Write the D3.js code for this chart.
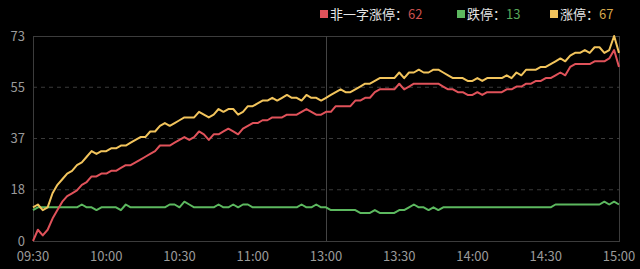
<!DOCTYPE html>
<html>
<head>
<meta charset="utf-8">
<script src="https://cdn.jsdelivr.net/npm/d3@7"></script>
<style>
  body { margin: 0; background: #000; }
  #chart text { font-family: "Noto Sans CJK SC", "Noto Sans", sans-serif; }
</style>
</head>
<body>
<div id="chart"></div>
<script>
// x axis labels (trading minutes, lunch break skipped)
let timeLabels = ["09:30", "10:00", "10:30", "11:00", "13:00", "13:30", "14:00", "14:30", "15:00"];
let yTickLabels = ["0", "18", "37", "55", "73"];
let yMax = 73;

// one value every 2 trading minutes, 09:30 -> 15:00
let limitUp = [
  12, 13, 11, 12, 17, 20, 22, 24, 25, 27, 28, 30, 32, 31, 32, 32, 33, 33, 34, 34,
  35, 36, 37, 37, 39, 39, 41, 42, 41, 42, 43, 44, 44, 44, 46, 45, 44, 45, 47, 46,
  47, 47, 45, 46, 48, 48, 49, 50, 50, 51, 50, 51, 52, 51, 51, 50, 52, 51, 51, 50,
  51, 52, 53, 54, 53, 53, 54, 55, 56, 56, 57, 58, 58, 58, 58, 60, 58, 60, 60, 61,
  60, 60, 61, 61, 60, 59, 58, 58, 58, 57, 57, 58, 57, 58, 58, 58, 58, 59, 58, 60,
  59, 61, 61, 61, 62, 62, 63, 64, 65, 64, 66, 67, 67, 68, 67, 69, 69, 67, 68, 73,
  67
];
let nonOneWord = [
  0, 4, 2, 4, 8, 11, 14, 16, 17, 18, 20, 21, 23, 23, 24, 24, 25, 25, 26, 27,
  27, 28, 29, 30, 31, 32, 34, 34, 34, 35, 36, 37, 36, 37, 39, 38, 36, 38, 38, 39,
  40, 39, 38, 40, 41, 42, 42, 43, 43, 44, 44, 44, 45, 45, 45, 46, 47, 46, 45, 45,
  46, 46, 48, 48, 48, 48, 50, 50, 51, 51, 53, 54, 54, 54, 54, 56, 54, 55, 56, 56,
  56, 56, 56, 56, 55, 54, 54, 53, 53, 52, 52, 53, 52, 53, 53, 53, 53, 54, 54, 55,
  55, 56, 56, 57, 57, 58, 58, 59, 60, 59, 62, 63, 63, 63, 63, 64, 64, 64, 65, 68,
  62
];
let limitDown = [
  11, 12, 12, 12, 12, 12, 12, 12, 12, 12, 13, 12, 12, 11, 12, 12, 12, 12, 11, 13,
  12, 12, 12, 12, 12, 12, 12, 12, 13, 13, 12, 14, 13, 12, 12, 12, 12, 12, 13, 12,
  12, 13, 12, 13, 13, 12, 12, 12, 12, 12, 12, 12, 12, 12, 12, 13, 12, 12, 13, 12,
  12, 11, 11, 11, 11, 11, 11, 10, 10, 10, 11, 10, 10, 10, 10, 11, 11, 12, 13, 12,
  12, 11, 12, 11, 12, 12, 12, 12, 12, 12, 12, 12, 12, 12, 12, 12, 12, 12, 12, 12,
  12, 12, 12, 12, 12, 12, 12, 13, 13, 13, 13, 13, 13, 13, 13, 13, 13, 14, 13, 14,
  13
];

let seriesNames = ["非一字涨停", "跌停", "涨停"];
let seriesColors = ["#e0525a", "#5cb85f", "#f2c45c"];
let valueColors = ["#c8504e", "#58a85a", "#d6a84c"];

function makeChart() {
  let svgWidth = 640;
  let svgHeight = 269;
  let margin = { top: 36, right: 21, bottom: 28, left: 33 };
  let width = svgWidth - margin.left - margin.right;
  let height = svgHeight - margin.top - margin.bottom;

  let svg = d3.select("#chart").append("svg")
    .attr("width", svgWidth)
    .attr("height", svgHeight)
    .style("background", "#000");

  let g = svg.append("g")
    .attr("transform", `translate(${margin.left}, ${margin.top})`);

  let x = d3.scaleLinear().domain([0, 240]).range([0, width]);
  let y = d3.scaleLinear().domain([0, yMax]).range([height, 0]);

  // horizontal grid
  let yTicks = yTickLabels.map((d, i) => yMax * i / (yTickLabels.length - 1));
  g.selectAll(".grid")
    .data(yTicks.slice(1, -1))
    .enter()
    .append("line")
    .attr("x1", 0)
    .attr("x2", width)
    .attr("y1", d => y(d))
    .attr("y2", d => y(d))
    .attr("stroke", "#3a3a3a")
    .attr("stroke-dasharray", "4,4");

  // frame
  g.append("rect")
    .attr("x", 0.5)
    .attr("y", 0.5)
    .attr("width", width)
    .attr("height", height)
    .attr("fill", "none")
    .attr("stroke", "#3c3c3c");

  // 13:00 divider
  g.append("line")
    .attr("x1", Math.round(x(120)) + 0.5)
    .attr("x2", Math.round(x(120)) + 0.5)
    .attr("y1", 0)
    .attr("y2", height)
    .attr("stroke", "#444");

  g.selectAll(".ylab")
    .data(yTicks)
    .enter()
    .append("text")
    .attr("x", -8)
    .attr("y", d => y(d))
    .attr("dy", "0.35em")
    .attr("text-anchor", "end")
    .attr("font-size", "13px")
    .attr("fill", "#9a9a9a")
    .text((d, i) => yTickLabels[i]);

  g.selectAll(".xlab")
    .data(timeLabels)
    .enter()
    .append("text")
    .attr("x", (d, i) => x(i * 30))
    .attr("y", height + 20)
    .attr("text-anchor", "middle")
    .attr("font-size", "13px")
    .attr("fill", "#9a9a9a")
    .text(d => d);

  let line = d3.line()
    .x((d, i) => x(i * 2))
    .y(d => y(d));

  let series = [limitDown, nonOneWord, limitUp];
  let colorIdx = [1, 0, 2];
  series.forEach(function(s, k) {
    g.append("path")
      .datum(s)
      .attr("d", line)
      .attr("fill", "none")
      .attr("stroke", seriesColors[colorIdx[k]])
      .attr("stroke-width", 2)
      .attr("stroke-linejoin", "round");
  });

  // legend
  let lastValues = [nonOneWord[nonOneWord.length - 1], limitDown[limitDown.length - 1], limitUp[limitUp.length - 1]];
  let legendX = [320, 457, 550];
  seriesNames.forEach(function(name, i) {
    let lg = svg.append("g").attr("transform", `translate(${legendX[i]}, 14)`);
    lg.append("rect")
      .attr("x", 0)
      .attr("y", -4)
      .attr("width", 8)
      .attr("height", 8)
      .attr("fill", seriesColors[i]);
    let t = lg.append("text")
      .attr("x", 10)
      .attr("dy", "0.35em")
      .attr("font-size", "13px");
    t.append("tspan").attr("fill", "#e6e6e6").text(name + "：");
    t.append("tspan").attr("fill", valueColors[i]).text(lastValues[i]);
  });
}

makeChart();
</script>
</body>
</html>
